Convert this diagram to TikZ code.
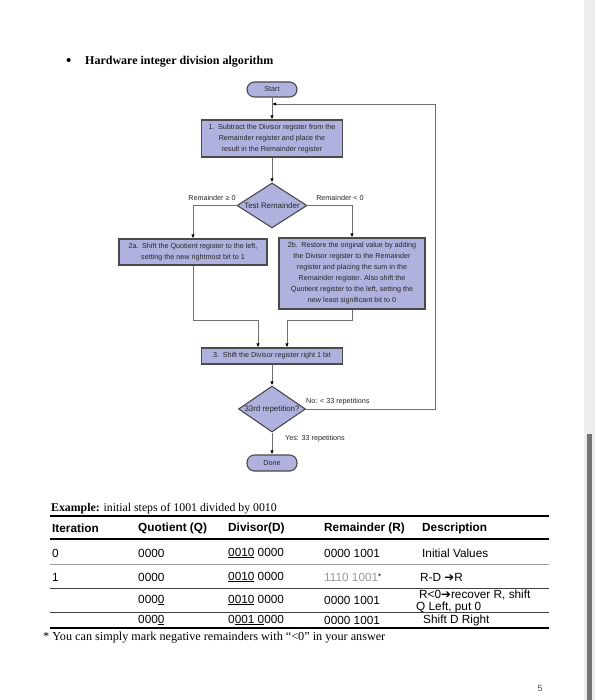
\documentclass[tikz,border=0pt]{standalone}
\usepackage{fontspec}
\setmainfont{Liberation Serif}
\setsansfont{Liberation Sans}
\newfontfamily\arrowfont{DejaVu Sans}
\usetikzlibrary{shapes.geometric}
\usetikzlibrary{arrows.meta}

\definecolor{boxfill}{HTML}{AFB2DE}
\definecolor{boxline}{HTML}{4A4A4A}
\definecolor{flowline}{HTML}{707070}

\begin{document}
\begin{tikzpicture}[x=1pt, y=-1pt,
  chart/.style={font=\sffamily\fontsize{7.2}{11}\selectfont, text=black!85},
  stepbox/.style={chart, draw=boxline, line width=1.1pt, fill=boxfill, align=center, inner sep=1pt},
  term/.style={stepbox, rounded corners=7.5pt, minimum width=50pt, minimum height=15pt},
  decide/.style={stepbox, shape=diamond, inner sep=0pt, font=\sffamily\fontsize{7.9}{11}\selectfont},
  flow/.style={draw=flowline, line width=0.8pt, -{Latex[length=4pt, width=3.4pt, color=black]}},
  cell/.style={anchor=west, inner sep=0pt, font=\sffamily\fontsize{11.8}{12}\selectfont},
  head/.style={cell, font=\sffamily\bfseries\fontsize{11.8}{12}\selectfont},
  rule/.style={line width=0.8pt, black!75}]
\useasboundingbox (0,0) rectangle (596,700);
\fill[white] (0,0) rectangle (596,700);
% scroll bar at the right
\fill[black!7] (584,0) rectangle (595,700);
\fill[black!55] (587,434) rectangle (592,700);

% title
\node[anchor=west, inner sep=0pt, font=\bfseries\fontsize{15}{16}\selectfont] (bullet) at (66,62) {•};
\node[anchor=west, inner sep=0pt, font=\bfseries\fontsize{12}{14}\selectfont] (title) at (85,62) {Hardware integer division algorithm};

% flow chart
\node[term] (start) at (272,89.5) {Start};
\node[stepbox, minimum width=141pt, minimum height=37pt] (sub) at (272,138.5)
  {1.\enspace Subtract the Divisor register from the\\Remainder register and place the\\result in the Remainder register};
\node[decide, minimum width=70pt, minimum height=45pt] (testrem) at (272,205.5) {\makebox[0pt]{Test Remainder}};
\node[stepbox, minimum width=148pt, minimum height=26pt] (shiftq) at (193,252)
  {2a.\enspace Shift the Quotient register to the left,\\setting the new rightmost bit to 1};
\node[stepbox, minimum width=146pt, minimum height=71pt] (restore) at (352,273.5)
  {2b.\enspace Restore the original value by adding\\the Divisor register to the Remainder\\register and placing the sum in the\\Remainder register. Also shift the\\Quotient register to the left, setting the\\new least significant bit to 0};
\node[stepbox, minimum width=141pt, minimum height=16pt] (shiftd) at (272,356) {3.\enspace Shift the Divisor register right 1 bit};
\node[decide, minimum width=67pt, minimum height=46pt] (rep) at (272,409) {\makebox[0pt]{33rd repetition?}};
\node[term, minimum height=16pt] (done) at (272,463) {Done};

\node[chart] (geq) at (212,198) {Remainder ≥ 0};
\node[chart] (less) at (340,198) {Remainder < 0};
\node[chart, anchor=west, inner sep=0pt] (no) at (306,402) {No: < 33 repetitions};
\node[chart, anchor=west, inner sep=0pt] (yes) at (285,439) {Yes: 33 repetitions};

\coordinate (joinq) at (258,320);
\coordinate (joinr) at (287,320);
\coordinate (loop) at (435,104);

\draw[flow] (start) -- (sub);
\draw[flow] (sub) -- (testrem);
\draw[flow] (testrem.west) -| (shiftq);
\draw[flow] (testrem.east) -| (restore);
\draw[flow] (shiftq) |- (joinq) -- (joinq |- shiftd.north);
\draw[flow] (restore) |- (joinr) -- (joinr |- shiftd.north);
\draw[flow] (shiftd) -- (rep);
\draw[flow] (rep.east) -| (loop) -- (loop -| start);
\draw[flow] (rep) -- (done);

% example table
\node[anchor=west, inner sep=0pt, font=\fontsize{11.8}{14}\selectfont] (example) at (51,509)
  {\textbf{Example:} initial steps of 1001 divided by 0010};
\draw[line width=1.6pt] (50,516) -- (549,516);
\node[head] (hiter) at (52,528) {Iteration};
\node[head] (hquot) at (138,528) {Quotient (Q)};
\node[head] (hdiv) at (228,528) {Divisor(D)};
\node[head] (hrem) at (324,528) {Remainder (R)};
\node[head] (hdesc) at (422,528) {Description};
\draw[line width=1.4pt] (50,539) -- (549,539);

\node[cell] (iter0) at (52,553) {0};
\node[cell] (quot0) at (138,553) {0000};
\node[cell] (div0) at (228,553) {\underline{0010} 0000};
\node[cell] (rem0) at (324,553) {0000 1001};
\node[cell] (desc0) at (422,553) {Initial Values};
\draw[line width=0.8pt, black!40] (50,564) -- (549,564);

\node[cell] (iter1) at (52,577) {1};
\node[cell] (quot1) at (138,577) {0000};
\node[cell] (div1) at (228,577) {\underline{0010} 0000};
\node[cell, text=black!40] (rem1) at (324,577) {1110 1001\raisebox{2pt}{\fontsize{8}{8}\selectfont\color{black}*}};
\node[cell] (desc1) at (420,577) {R-D {\arrowfont ➔}R};
\draw[rule] (50,588) -- (549,588);

\node[cell] (quot2) at (138,600) {000\underline{0}};
\node[cell] (div2) at (228,600) {\underline{0010} 0000};
\node[cell] (rem2) at (324,600) {0000 1001};
\node[cell, align=left] (desc2) at (416,601) {\hspace*{3pt}R<0{\arrowfont ➔}recover R, shift\\Q Left, put 0};
\draw[rule] (50,612) -- (549,612);

\node[cell] (quot3) at (138,620) {000\underline{0}};
\node[cell] (div3) at (228,620) {0\underline{001 0}000};
\node[cell] (rem3) at (324,620) {0000 1001};
\node[cell] (desc3) at (423,620) {Shift D Right};
\draw[line width=1.6pt] (50,628) -- (549,628);

\node[anchor=west, inner sep=0pt, font=\fontsize{12.2}{13}\selectfont] (foot) at (43,638)
  {* You can simply mark negative remainders with “<0” in your answer};

\node[inner sep=0pt, text=black!70, font=\sffamily\fontsize{9}{10}\selectfont] (page) at (540,688) {5};
\end{tikzpicture}
\end{document}
